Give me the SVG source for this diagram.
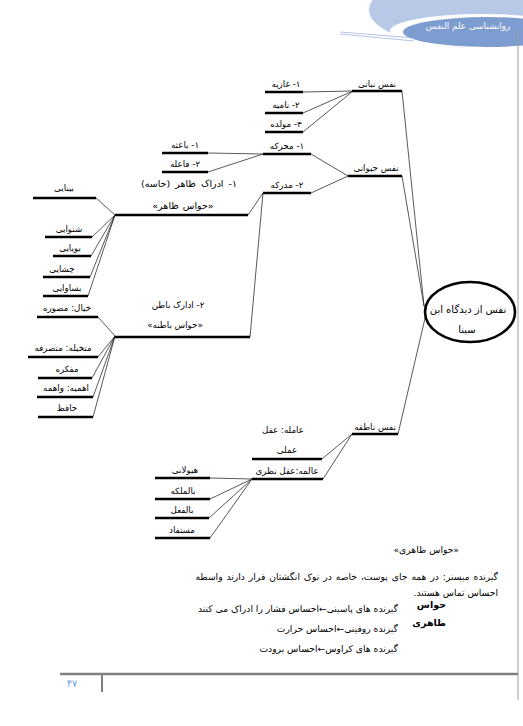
<svg xmlns="http://www.w3.org/2000/svg" width="523" height="726" viewBox="0 0 523 726">
<style>
text{font-family:"DejaVu Sans","Liberation Sans",sans-serif;font-size:8.7px;fill:#000;direction:rtl;text-anchor:middle}
.ul{stroke:#000;stroke-width:2.6;fill:none}
.c line{stroke:#222;stroke-width:0.75}
.p{text-anchor:start;direction:rtl;font-size:9.2px}
.b{font-weight:bold;font-size:9.5px}
</style>
<rect width="523" height="726" fill="#fff"/>
<g id="header">
<ellipse cx="475" cy="10" rx="106" ry="38" fill="#b7c9e6"/>
<ellipse cx="482" cy="31" rx="92" ry="17" fill="#fff"/>
<ellipse cx="487" cy="32" rx="84" ry="15" fill="#7d9dd0"/>
<line x1="340" y1="32" x2="414" y2="38" stroke="#9fb5da" stroke-width="0.8"/>
<line x1="340" y1="34" x2="414" y2="41" stroke="#9fb5da" stroke-width="0.8"/>
<text x="468" y="29" style="fill:#fff;font-size:8.8px">روانشناسی علم النفس</text>
</g>
<line x1="518" y1="30" x2="518" y2="700" stroke="#a0a0a0" stroke-width="1"/>
<g id="connectors" class="c">
<line x1="402" y1="91" x2="424" y2="306"/>
<line x1="402" y1="176" x2="424" y2="306"/>
<line x1="398" y1="434" x2="426" y2="314"/>
<line x1="303" y1="92" x2="353" y2="91"/>
<line x1="303" y1="113" x2="353" y2="91"/>
<line x1="303" y1="132" x2="353" y2="91"/>
<line x1="311" y1="154" x2="348" y2="176"/>
<line x1="311" y1="193" x2="348" y2="176"/>
<line x1="208" y1="153" x2="263" y2="154"/>
<line x1="208" y1="172" x2="263" y2="154"/>
<line x1="248" y1="215" x2="263" y2="193"/>
<line x1="250" y1="337" x2="263" y2="193"/>
<line x1="96" y1="198" x2="115" y2="215"/>
<line x1="92" y1="237" x2="115" y2="215"/>
<line x1="91" y1="256" x2="115" y2="215"/>
<line x1="90" y1="277" x2="115" y2="215"/>
<line x1="88" y1="296" x2="115" y2="215"/>
<line x1="98" y1="317" x2="115" y2="336"/>
<line x1="98" y1="357" x2="115" y2="336"/>
<line x1="92" y1="378" x2="115" y2="336"/>
<line x1="93" y1="397" x2="115" y2="336"/>
<line x1="93" y1="417" x2="115" y2="336"/>
<line x1="322" y1="459" x2="352" y2="434"/>
<line x1="323" y1="479" x2="352" y2="434"/>
<line x1="210" y1="478" x2="252" y2="479"/>
<line x1="210" y1="499" x2="252" y2="479"/>
<line x1="209" y1="518" x2="252" y2="479"/>
<line x1="210" y1="538" x2="252" y2="479"/>
</g>
<g id="root">
<ellipse cx="470" cy="312" rx="45" ry="30" fill="#fff" stroke="#000" stroke-width="2.6"/>
<text x="468" y="313" style="font-size:10px">نفس از دیدگاه ابن</text>
<text x="467" y="333" style="font-size:10px">سینا</text>
</g>
<g id="nafs-nabati"><text x="377" y="87">نفس نباتی</text><line class="ul" x1="352" y1="91" x2="402" y2="91"/></g>
<g id="nafs-heyvani"><text x="376" y="171">نفس حیوانی</text><line class="ul" x1="348" y1="176" x2="402" y2="176"/></g>
<g id="nafs-nategheh"><text x="375" y="430">نفس ناطقه</text><line class="ul" x1="352" y1="434" x2="398" y2="434"/></g>
<g id="ghazieh"><text x="286" y="87">۱- غازیه</text><line class="ul" x1="265" y1="92" x2="303" y2="92"/></g>
<g id="namieh"><text x="286" y="108">۲- نامیه</text><line class="ul" x1="265" y1="113" x2="303" y2="113"/></g>
<g id="movalledeh"><text x="286" y="127">۳- مولده</text><line class="ul" x1="265" y1="132" x2="303" y2="132"/></g>
<g id="moharrekeh"><text x="287" y="149">۱- محرکه</text><line class="ul" x1="263" y1="154" x2="311" y2="154"/></g>
<g id="modrekeh"><text x="287" y="188">۲- مدرکه</text><line class="ul" x1="263" y1="193" x2="311" y2="193"/></g>
<g id="baesseh"><text x="185" y="148">۱- باعثه</text><line class="ul" x1="162" y1="153" x2="208" y2="153"/></g>
<g id="faeleh"><text x="185" y="167">۲- فاعله</text><line class="ul" x1="162" y1="172" x2="208" y2="172"/></g>
<g id="zaher"><text x="189" y="187" style="font-size:9.5px;word-spacing:2px">۱- ادراک ظاهر (حاسه)</text><text x="183" y="209" style="font-size:9.5px;word-spacing:1px">«حواس ظاهر»</text><line class="ul" x1="115" y1="215" x2="248" y2="215"/></g>
<g id="baten"><text x="178" y="308">۲- ادارک باطن</text><text x="175" y="328">«حواس باطنه»</text><line class="ul" x1="115" y1="337" x2="250" y2="337"/></g>
<g id="binaei"><text x="64" y="191">بینایی</text><line class="ul" x1="33" y1="198" x2="96" y2="198"/></g>
<g id="shenavaei"><text x="69" y="232">شنوایی</text><line class="ul" x1="45" y1="237" x2="92" y2="237"/></g>
<g id="buyaei"><text x="70" y="251">بویایی</text><line class="ul" x1="53" y1="256" x2="91" y2="256"/></g>
<g id="cheshaei"><text x="62" y="272">چشایی</text><line class="ul" x1="43" y1="277" x2="90" y2="277"/></g>
<g id="basavaei"><text x="67" y="291">بساوایی</text><line class="ul" x1="43" y1="296" x2="88" y2="296"/></g>
<g id="khial"><text x="67" y="311">خیال: مصوره</text><line class="ul" x1="37" y1="317" x2="98" y2="317"/></g>
<g id="motakhayyeleh"><text x="63" y="351">متخیله: متصرفه</text><line class="ul" x1="28" y1="357" x2="98" y2="357"/></g>
<g id="mofakkereh"><text x="67" y="372">مفکره</text><line class="ul" x1="38" y1="378" x2="92" y2="378"/></g>
<g id="vahemeh"><text x="66" y="391">اهمیه: واهمه</text><line class="ul" x1="37" y1="397" x2="93" y2="397"/></g>
<g id="hafez"><text x="67" y="411">حافظ</text><line class="ul" x1="38" y1="417" x2="93" y2="417"/></g>
<g id="amaleh"><text x="283" y="433">عامله: عقل</text><text x="287" y="453">عملی</text><line class="ul" x1="252" y1="459" x2="322" y2="459"/></g>
<g id="aalemeh"><text x="287" y="474">عالمه:عقل نظری</text><line class="ul" x1="252" y1="479" x2="323" y2="479"/></g>
<g id="hayulani"><text x="185" y="473">هیولانی</text><line class="ul" x1="155" y1="478" x2="210" y2="478"/></g>
<g id="belmalakeh"><text x="183" y="494">بالملکه</text><line class="ul" x1="155" y1="499" x2="210" y2="499"/></g>
<g id="belfel"><text x="182" y="513">بالفعل</text><line class="ul" x1="155" y1="518" x2="209" y2="518"/></g>
<g id="mostafad"><text x="182" y="533">مستفاد</text><line class="ul" x1="155" y1="538" x2="210" y2="538"/></g>
<g id="notes">
<text class="p" x="459" y="553">«حواس ظاهری»</text>
<text class="p" x="498" y="580" style="word-spacing:1px">گیرنده میسنر: در همه جای پوست، خاصه در نوک انگشتان قرار دارند واسطه</text>
<text class="p" x="498" y="596">احساس تماس هستند.</text>
<text class="p b" x="446" y="608">حواس</text>
<text class="p b" x="446" y="626">ظاهری</text>
<text class="p" x="398" y="612">گیرنده های پاسینی←احساس فشار را ادراک می کنند</text>
<text class="p" x="398" y="632">گیرنده روفینی←احساس حرارت</text>
<text class="p" x="398" y="652">گیرنده های کراوس←احساس برودت</text>
</g>
<g id="footer">
<line x1="60" y1="674" x2="518" y2="674" stroke="#808080" stroke-width="2.5"/>
<line x1="102" y1="675" x2="102" y2="692" stroke="#808080" stroke-width="2"/>
<text x="72" y="687" style="fill:#6fa0e6;font-size:10px">۴۷</text>
</g>
</svg>
